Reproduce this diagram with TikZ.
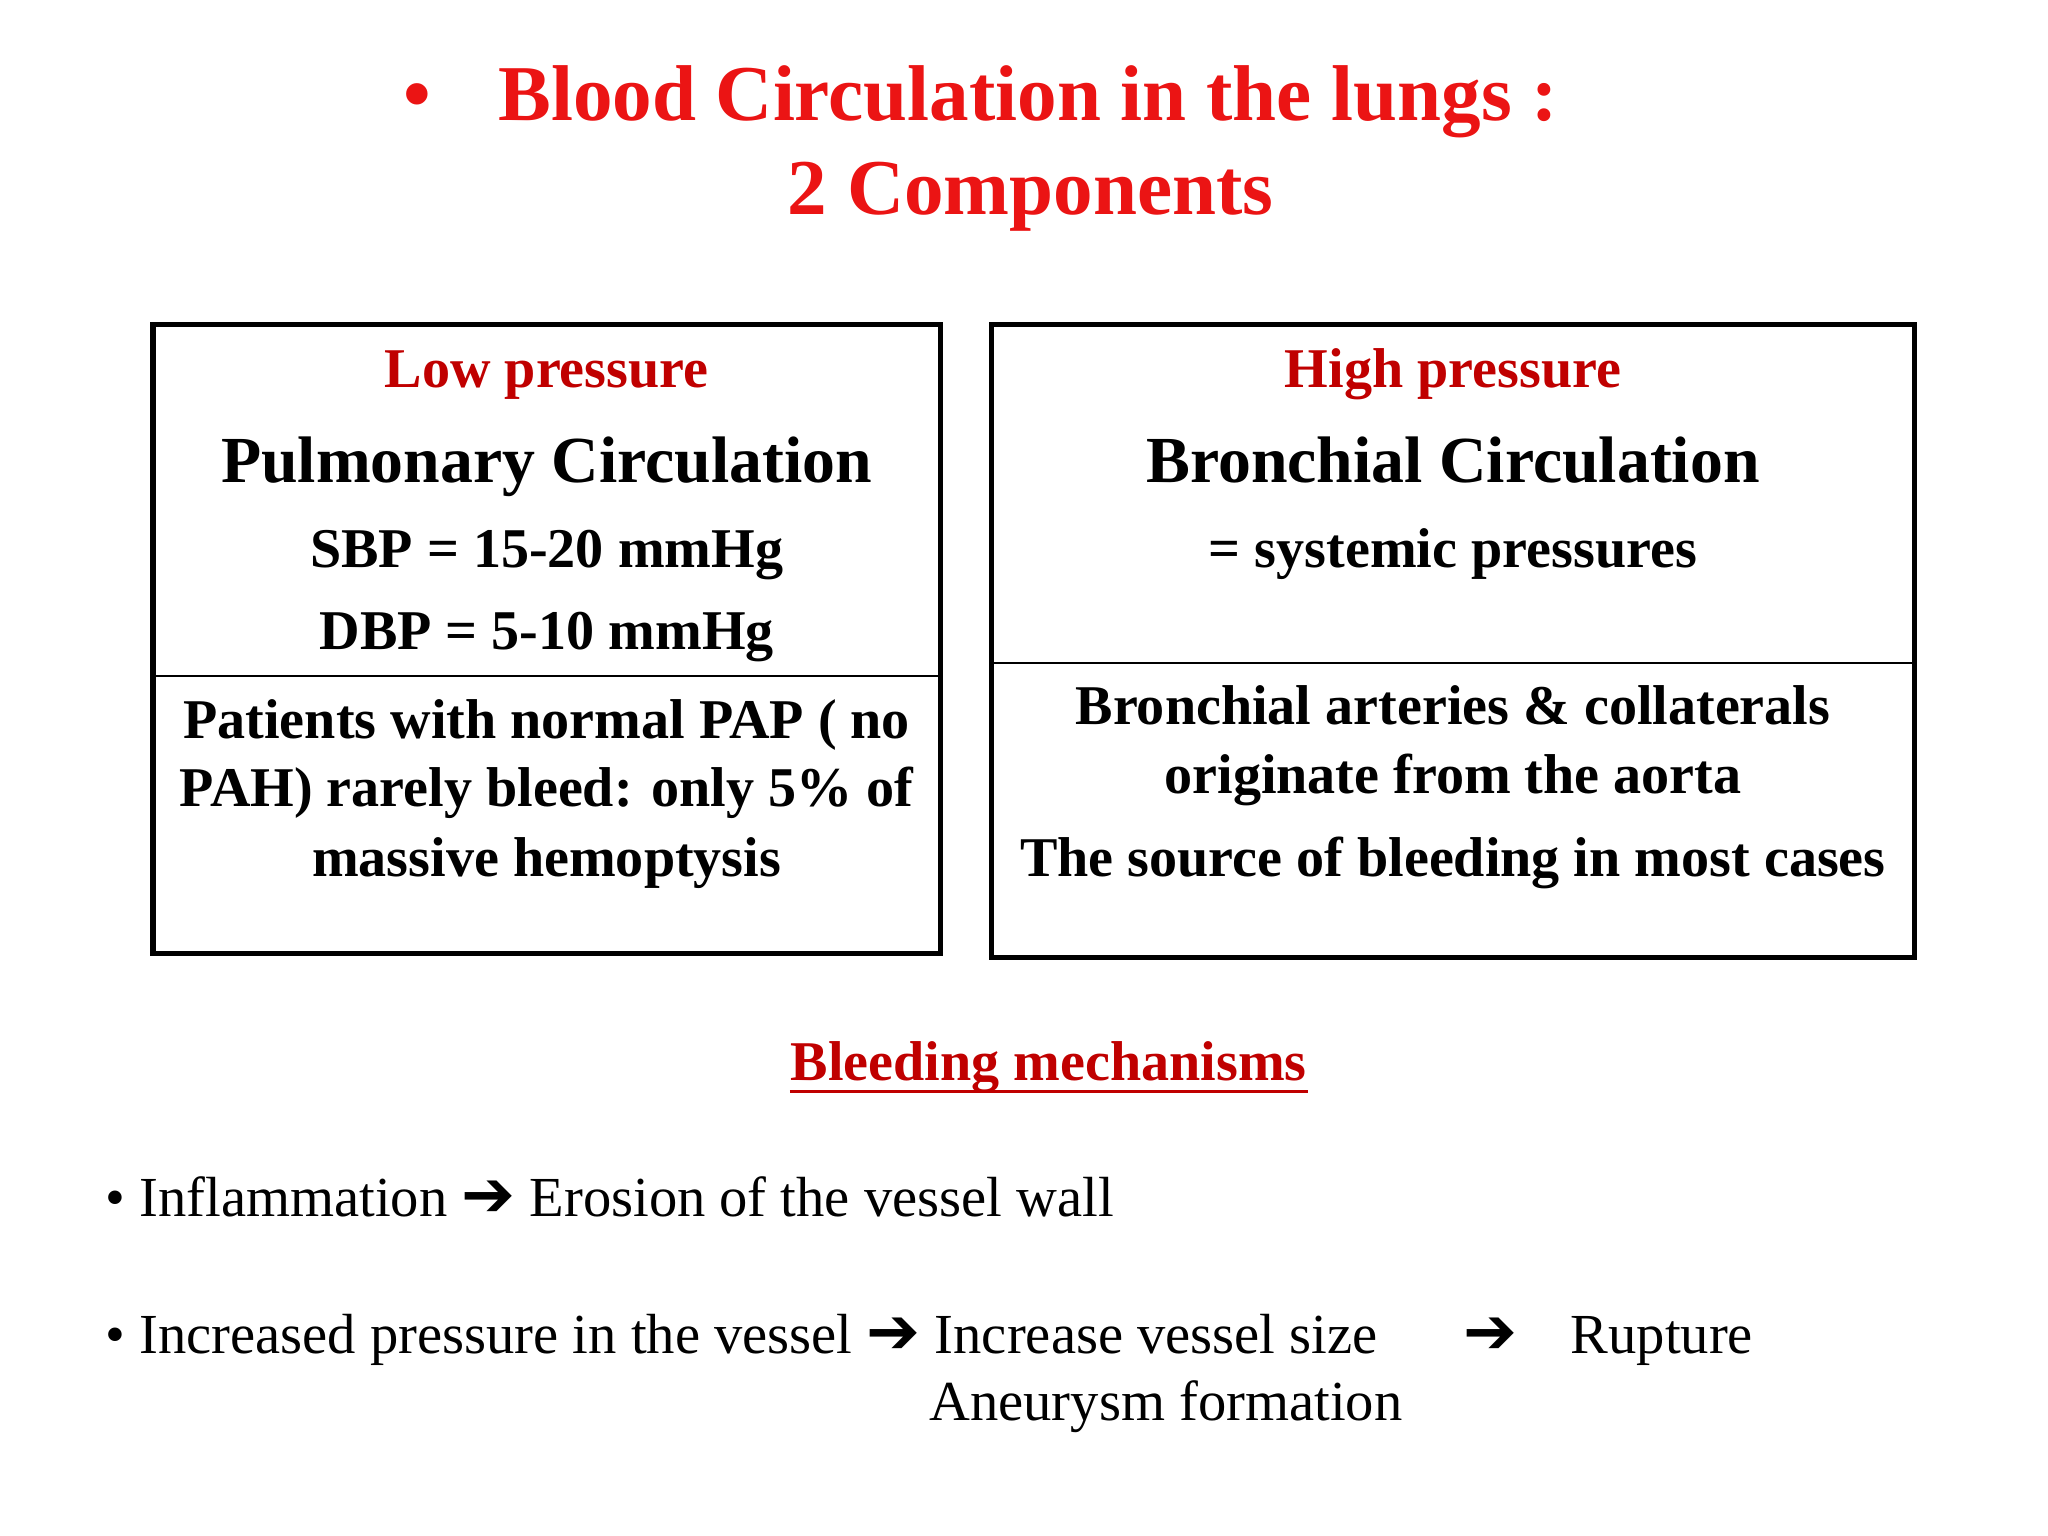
\documentclass[tikz,border=0pt]{standalone}
\usepackage{fontspec}
\setmainfont{Liberation Serif}
\newfontfamily\symf{DejaVu Sans}
\definecolor{tred}{RGB}{235,20,20}
\definecolor{dred}{RGB}{192,0,0}
\newcommand{\bigarr}{{\symf\bfseries\fontsize{14}{14}\selectfont ➔}}
\begin{document}
\begin{tikzpicture}[x=0.01cm,y=-0.01cm,
  box/.style={draw,line width=1.2pt},
  div/.style={line width=0.6pt},
  t/.style={inner sep=0pt,anchor=base},
  bt/.style={t,font=\fontsize{12.2}{14}\selectfont\bfseries},
  bod/.style={t,font=\fontsize{12.3}{14}\selectfont}]
\useasboundingbox (0,0) rectangle (1566,1174);
\node[t,text=tred,font=\fontsize{17.2}{20}\selectfont\bfseries] (title1) at (750,92) {\textbullet\hspace{0.6em} Blood Circulation in the lungs :};
\node[t,text=tred,font=\fontsize{17.2}{20}\selectfont\bfseries] (title2) at (788,164) {2 Components};
% left box
\draw[box] (117,248) rectangle (719,729);
\draw[div] (117,517) -- (719,517);
\node[bt,text=dred] (lp) at (418,296) {Low pressure};
\node[t,font=\fontsize{14.3}{17}\selectfont\bfseries] (pc) at (418,369) {Pulmonary Circulation};
\node[bt] (sbp) at (418,434) {SBP = 15-20 mmHg};
\node[bt] (dbp) at (418,497) {DBP = 5-10 mmHg};
\node[bt] (l1) at (418,565) {Patients with normal PAP ( no};
\node[bt] (l2) at (418,617) {PAH) rarely bleed: only 5\% of};
\node[bt] (l3) at (418,670) {massive hemoptysis};
% right box
\draw[box] (758,248) rectangle (1464,732);
\draw[div] (758,507) -- (1464,507);
\node[bt,text=dred] (hp) at (1111,296) {High pressure};
\node[t,font=\fontsize{14.3}{17}\selectfont\bfseries] (bc) at (1111,369) {Bronchial Circulation};
\node[bt] (sys) at (1111,434) {= systemic pressures};
\node[bt] (r1) at (1111,554) {Bronchial arteries \& collaterals};
\node[bt] (r2) at (1111,607) {originate from the aorta};
\node[bt] (r3) at (1111,670) {The source of bleeding in most cases};
% bottom
\node[bt,text=dred] (bm) at (802,826) {Bleeding mechanisms};
\draw[dred,line width=0.7pt] ([yshift=-2.5pt]bm.base west) -- ([yshift=-2.5pt]bm.base east);
\node[bod,anchor=base west] (b1) at (80,930) {\textbullet\ Inflammation \bigarr\ Erosion of the vessel wall};
\node[bod,anchor=base west] (b2) at (80,1035) {\textbullet\ Increased pressure in the vessel \bigarr\ Increase vessel size};
\node[bod,anchor=base west] (b3) at (1118,1035) {\bigarr\hspace{0.7em} Rupture};
\node[bod,anchor=base west] (b4) at (710,1086) {Aneurysm formation};
\end{tikzpicture}
\end{document}
